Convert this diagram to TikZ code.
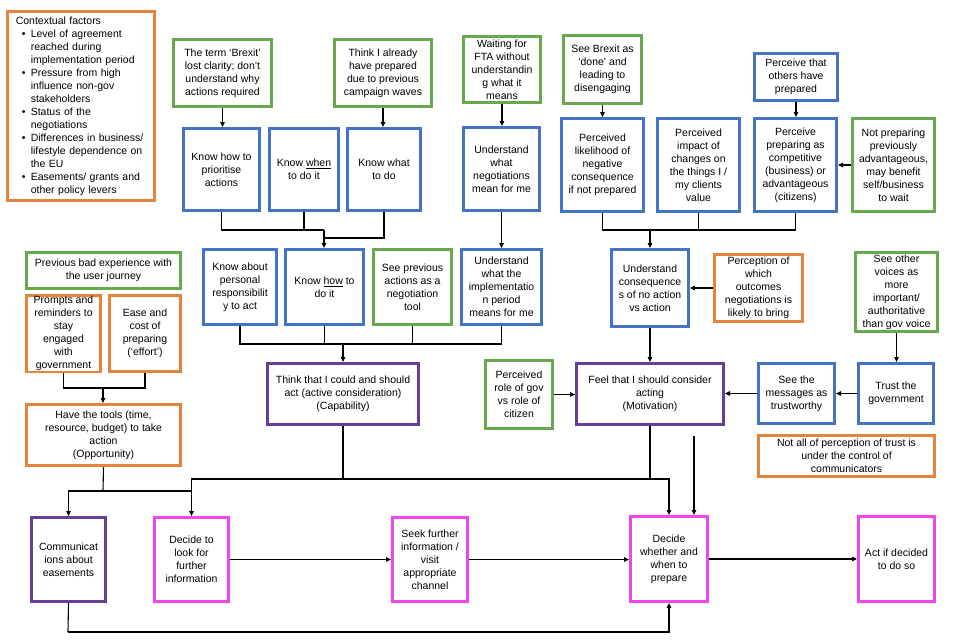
\documentclass[tikz,border=0pt]{standalone}
\usepackage{fontspec}
\setmainfont{Liberation Sans}
\usetikzlibrary{arrows.meta}
\definecolor{cblue}{HTML}{4472C4}
\definecolor{cgreen}{HTML}{6AA84F}
\definecolor{corange}{HTML}{E7843C}
\definecolor{cpurple}{HTML}{673D9C}
\definecolor{cmag}{HTML}{F046F0}
\tikzset{
  bxs/.style={rectangle, line width=2.8pt, fill=white, align=center, inner sep=1pt},
  arr/.style={line width=1.1pt, -{Triangle[length=5pt,width=4.5pt]}},
  ln/.style={line width=1.1pt},
}
\newcommand\mkbox[7]{\node[bxs,draw=#6,minimum width={#4pt-#2pt-2.8pt},minimum height={#5pt-#3pt-2.8pt}] (#1) at ({(#2+#4)/2},{(#3+#5)/2}) {#7};}
\begin{document}
\begin{tikzpicture}[x=1pt,y=-1pt,font=\fontsize{10.5}{13}\selectfont]
\useasboundingbox[fill=white] (0,0) rectangle (960,640);
% contextual factors
\node[bxs,draw=corange,align=left,inner xsep=8pt,text width=131pt,minimum height=189pt,anchor=north west] (ctx) at (6.4,10.4)
{Contextual factors\\
\makebox[15pt][l]{\hspace{6pt}•}Level of agreement\\
\hspace*{15pt}reached during\\
\hspace*{15pt}implementation period\\
\makebox[15pt][l]{\hspace{6pt}•}Pressure from high\\
\hspace*{15pt}influence non-gov\\
\hspace*{15pt}stakeholders\\
\makebox[15pt][l]{\hspace{6pt}•}Status of the\\
\hspace*{15pt}negotiations\\
\makebox[15pt][l]{\hspace{6pt}•}Differences in business/\\
\hspace*{15pt}lifestyle dependence on\\
\hspace*{15pt}the EU\\
\makebox[15pt][l]{\hspace{6pt}•}Easements/ grants and\\
\hspace*{15pt}other policy levers};
% top row
\mkbox{g1}{172}{38}{273}{108}{cgreen}{The term ‘Brexit’\\lost clarity; don’t\\understand why\\actions required}
\mkbox{g2}{333}{38}{433}{108}{cgreen}{Think I already\\have prepared\\due to previous\\campaign waves}
\mkbox{g3}{462}{35}{542}{104}{cgreen}{Waiting for\\FTA without\\understandin\\g what it\\means}
\mkbox{g4}{562}{34}{643}{105}{cgreen}{See Brexit as\\‘done’ and\\leading to\\disengaging}
\mkbox{bo}{753}{52}{839}{102}{cblue}{Perceive that\\others have\\prepared}
% second row
\mkbox{b1}{182}{127}{261}{212}{cblue}{Know how to\\prioritise\\actions}
\mkbox{b2}{268}{127}{340}{212}{cblue}{Know \underline{when}\\to do it}
\mkbox{b3}{346}{127}{422}{212}{cblue}{Know what\\to do}
\mkbox{b4}{462}{126}{541}{212}{cblue}{Understand\\what\\negotiations\\mean for me}
\mkbox{b5}{560}{117}{645}{213}{cblue}{Perceived\\likelihood of\\negative\\consequence\\if not prepared}
\mkbox{b6}{656}{117}{741}{213}{cblue}{Perceived\\impact of\\changes on\\the things I /\\my clients\\value}
\mkbox{b7}{753}{117}{838}{213}{cblue}{Perceive\\preparing as\\competitive\\(business) or\\advantageous\\(citizens)}
\mkbox{g5}{851}{117}{936}{213}{cgreen}{Not preparing\\previously\\advantageous,\\may benefit\\self/business\\to wait}
% third row
\mkbox{b8}{202}{248}{278}{326}{cblue}{Know about\\personal\\responsibilit\\y to act}
\mkbox{b9}{284}{248}{365}{326}{cblue}{Know \underline{how} to\\do it}
\mkbox{g6}{372}{248}{453}{326}{cgreen}{See previous\\actions as a\\negotiation\\tool}
\mkbox{b10}{460}{248}{543}{326}{cblue}{Understand\\what the\\implementatio\\n period\\means for me}
\mkbox{b11}{610}{248}{690}{328}{cblue}{Understand\\consequence\\s of no action\\vs action}
\mkbox{o4}{713}{253}{804}{323}{corange}{Perception of\\which\\outcomes\\negotiations is\\likely to bring}
\mkbox{g8}{854}{251}{939}{333}{cgreen}{See other\\voices as\\more\\important/\\authoritative\\than gov voice}
% left column
\mkbox{g7}{25}{251}{182}{290}{cgreen}{Previous bad experience with\\the user journey}
\mkbox{o1}{25}{294}{102}{373}{corange}{Prompts and\\reminders to\\stay\\engaged\\with\\government}
\mkbox{o2}{108}{294}{182}{373}{corange}{Ease and\\cost of\\preparing\\(‘effort’)}
\mkbox{o3}{25}{403}{182}{467}{corange}{Have the tools (time,\\resource, budget) to take\\action\\(Opportunity)}
% middle
\mkbox{cap}{266}{362}{420}{426}{cpurple}{Think that I could and should\\act (active consideration)\\(Capability)}
\mkbox{g9}{484}{359}{554}{430}{cgreen}{Perceived\\role of gov\\vs role of\\citizen}
\mkbox{mot}{575}{362}{725}{426}{cpurple}{Feel that I should consider\\acting\\(Motivation)}
\mkbox{b13}{757}{362}{836}{425}{cblue}{See the\\messages as\\trustworthy}
\mkbox{b12}{857}{362}{935}{425}{cblue}{Trust the\\government}
\mkbox{o5}{757}{434}{936}{478}{corange}{Not all of perception of trust is\\under the control of\\communicators}
% bottom row
\mkbox{p1}{30}{516}{107}{603}{cpurple}{Communicat\\ions about\\easements}
\mkbox{m1}{153}{516}{230}{603}{cmag}{Decide to\\look for\\further\\information}
\mkbox{m2}{391}{516}{469}{603}{cmag}{Seek further\\information /\\visit\\appropriate\\channel}
\mkbox{m3}{629}{515}{709}{603}{cmag}{Decide\\whether and\\when to\\prepare}
\mkbox{m4}{857}{515}{936}{603}{cmag}{Act if decided\\to do so}
% junction coordinates
\coordinate (j1) at (324,230);
\coordinate (j1b) at (324,238);
\coordinate (j2) at (343,344);
\coordinate (j3) at (103,388);
\coordinate (j4) at (650,230);
\coordinate (j5) at (343,479);
\coordinate (j6) at (103,491);
\coordinate (fa) at (694,436);
\coordinate (j7) at (68,632);
% connectors top
\draw[arr] (g1.south) -- (g1.south |- b1.north);
\draw[arr] (g2.south) -- (g2.south |- b3.north);
\draw[arr] (g3.south) -- (g3.south |- b4.north);
\draw[arr] (g4.south) -- (g4.south |- b5.north);
\draw[arr] (bo.south) -- (bo.south |- b7.north);
\draw[arr] (g5.west) -- (b7.east);
% merge to know how
\draw[ln] (b1.south) |- (j1);
\draw[ln] (b2.south) |- (j1);
\draw[ln] (b3.south) |- (j1b);
\draw[arr] (j1) -- (j1 |- b9.north);
\draw[arr] (b4.south) -- (b4.south |- b10.north);
% merge to capability
\draw[ln] (b8.south) |- (j2);
\draw[ln] (b9.south) |- (j2);
\draw[ln] (g6.south) |- (j2);
\draw[ln] (b10.south) |- (j2);
\draw[arr] (j2) -- (j2 |- cap.north);
% opportunity
\draw[ln] (o1.south) |- (j3);
\draw[ln] (o2.south) |- (j3);
\draw[arr] (j3) -- (j3 |- o3.north);
% motivation side
\draw[ln] (b5.south) |- (j4);
\draw[ln] (b6.south) |- (j4);
\draw[ln] (b7.south) |- (j4);
\draw[arr] (j4) -- (j4 |- b11.north);
\draw[arr] (o4.west) -- (b11.east);
\draw[arr] (b11.south) -- (b11.south |- mot.north);
\draw[arr] (g8.south) -- (g8.south |- b12.north);
\draw[arr] (b12.west) -- (b12.west -| b13.east);
\draw[arr] (b13.west) -- (b13.west -| mot.east);
\draw[arr] (g9.east) -- (g9.east -| mot.west);
% to bottom
\draw[ln] (cap.south) -- (j5);
\draw[arr] (j5) -| (m1.north);
\draw[arr] (j5) -| (m3.north);
\draw[ln] (mot.south) -- (mot.south |- j5);
\draw[ln] (o3.south) -- (j6);
\draw[arr] (j6) -| (p1.north);
\draw[ln] (j6) -- (j6 -| m1.north);
\draw[arr] (fa) -- (fa |- m3.north);
\draw[ln] (p1.south) -- (j7);
\draw[arr] (j7) -| (m3.south);
\draw[arr] (m1.east) -- (m1.east -| m2.west);
\draw[arr] (m2.east) -- (m2.east -| m3.west);
\draw[arr] (m3.east) -- (m3.east -| m4.west);
\end{tikzpicture}
\end{document}
